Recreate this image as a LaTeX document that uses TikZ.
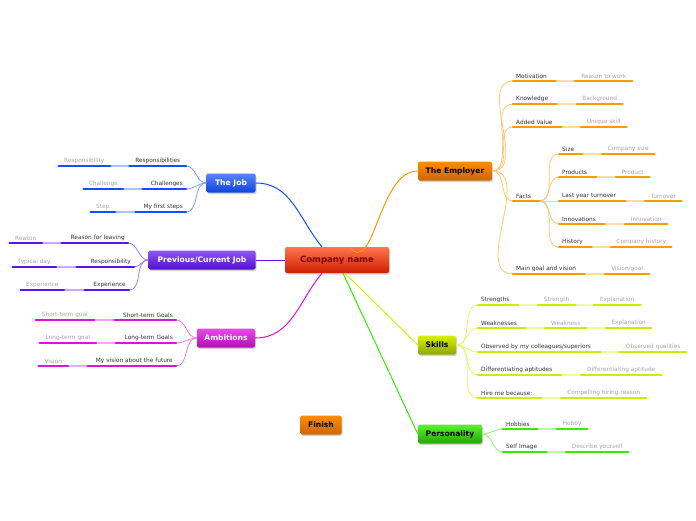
\documentclass[tikz,border=0pt]{standalone}
\usepackage{fontspec}
\setmainfont{DejaVu Sans}
\usetikzlibrary{shadows,calc}
\definecolor{cor}{HTML}{FF9900}
\definecolor{cyl}{HTML}{CCEE00}
\definecolor{cgr}{HTML}{33EE00}
\definecolor{cbl}{HTML}{1050FF}
\definecolor{cpu}{HTML}{6010F0}
\definecolor{cma}{HTML}{E010E0}
\tikzset{
  lfb/.style={font=\fontsize{5.8}{6.5}\selectfont, text=black!80, inner xsep=3pt, inner ysep=2.5pt, anchor=south west},
  lfg/.style={lfb, text=black!35, align=center},
  bar/.style={draw=#1, line width=2.4pt, line cap=round},
  main/.style={rounded corners=2pt, font=\bfseries\fontsize{7.6}{9}\selectfont, minimum height=19pt, inner xsep=6pt, drop shadow={opacity=0.35, shadow xshift=1pt, shadow yshift=-1.5pt}},
  conn/.style={draw=#1!55, line width=0.8pt},
  link/.style={draw=#1!35, line width=1.2pt},
  L/.style={anchor=south east}
}
\begin{document}
\begin{tikzpicture}[x=1pt,y=-1pt]
\useasboundingbox (0,0) rectangle (696,520);
\fill[white] (0,0) rectangle (696,520);
% main boxes
\node[main, top color=red!55!orange!70, bottom color=red!70!orange!80!black, text=red!50!black, minimum width=104pt, minimum height=26pt, font=\bfseries\fontsize{8.5}{10}\selectfont] (c) at (337,260) {Company name};
\node[main, top color=orange!90!yellow, bottom color=orange!80!black, text=black, minimum width=74pt] (emp) at (455,171) {The Employer};
\node[main, top color=cyl!80!yellow, bottom color=cyl!70!black, text=black, minimum width=38pt] (sk) at (437,345) {Skills};
\node[main, top color=cgr!80!white, bottom color=cgr!70!black, text=black, minimum width=64pt] (pe) at (450,434) {Personality};
\node[main, top color=cbl!70!white, bottom color=cbl!85!black, text=white, minimum width=49pt] (job) at (231,183) {The Job};
\node[main, top color=cpu!70!white, bottom color=cpu!85!black, text=white, minimum width=107pt] (prev) at (202,260) {Previous/Current Job};
\node[main, top color=cma!75!white, bottom color=cma!80!black, text=white, minimum width=58pt] (amb) at (226,338) {Ambitions};
\node[main, top color=orange!90!yellow, bottom color=orange!80!black, text=black, minimum width=41pt] (fin) at (321,425) {Finish};
% central connectors
\draw[cor, line width=1pt] ($(c.north)+(12,0)$) to[out=-50,in=180] (emp.west);
\draw[cyl!80!yellow, line width=1pt] ($(c.south)+(8,0)$) -- (sk.west);
\draw[cgr, line width=1pt] ($(c.south)+(6,0)$) -- (pe.west);
\draw[cbl, line width=1pt] ($(c.north)+(-15,0)$) to[out=130,in=0] (job.east);
\draw[cpu, line width=1pt] (c.west) -- (prev.east);
\draw[cma, line width=1pt] ($(c.south)+(-15,0)$) to[out=-130,in=0] (amb.east);
% ---- Employer
\node[lfb, text width=36pt, align=left] (mot) at (513,81) {Motivation};
\node[lfg, text width=51pt] (mot2) at (575,81) {Reason to work};
\node[lfb, text width=37pt, align=left] (kno) at (513,104) {Knowledge};
\node[lfg, text width=39pt] (kno2) at (577,104) {Background};
\node[lfb, text width=42pt, align=left] (add) at (513,127) {Added Value};
\node[lfg, text width=39pt] (add2) at (581,127) {Unique skill};
\node[lfb, text width=20pt, align=left] (fac) at (513,201) {Facts};
\node[lfb, text width=17pt, align=left] (siz) at (559,154) {Size};
\node[lfg, text width=46pt] (siz2) at (602,154) {Company size};
\node[lfb, text width=31pt, align=left] (pro) at (559,177) {Products};
\node[lfg, text width=27pt] (pro2) at (616,177) {Product};
\node[lfb, text width=60pt, align=left] (tur) at (559,201) {Last year turnover};
\node[lfg, text width=30pt] (tur2) at (645,201) {Turnover};
\node[lfb, text width=39pt, align=left] (inn) at (559,224) {Innovations};
\node[lfg, text width=36pt] (inn2) at (625,224) {Innovation};
\node[lfb, text width=26pt, align=left] (his) at (559,247) {History};
\node[lfg, text width=54pt] (his2) at (611,247) {Company history};
\node[lfb, text width=65pt, align=left] (mai) at (513,274) {Main goal and vision};
\node[lfg, text width=38pt] (mai2) at (605,274) {Vision/goal};
\foreach \n in {mot,kno,add,fac,mai} \draw[conn=cor] (emp.east) to[out=0,in=180] (\n.south west);
\foreach \n in {siz,pro,tur,inn,his} \draw[conn=cor] (fac.south east) to[out=0,in=180] (\n.south west);
\foreach \n in {mot,kno,add,siz,pro,tur,inn,his,mai} \draw[link=cor] (\n.south east) to[out=0,in=180] (\n2.south west);
\foreach \n in {mot,kno,add,fac,siz,pro,tur,inn,his,mai,mot2,kno2,add2,siz2,pro2,tur2,inn2,his2,mai2} \draw[bar=cor] (\n.south west) -- (\n.south east);
% ---- Skills
\node[lfb, text width=34pt, align=left] (str) at (478,305) {Strengths};
\node[lfg, text width=31pt] (str2) at (538,305) {Strength};
\node[lfg, text width=40pt] (str3) at (594,305) {Explanation};
\node[lfb, text width=41pt, align=left] (wea) at (478,328) {Weaknesses};
\node[lfg, text width=35pt] (wea2) at (545,328) {Weakness};
\node[lfg, text width=39pt] (wea3) at (606,328) {Explanation};
\node[lfb, text width=116pt, align=left] (obs) at (478,352) {Observed by my colleagues/superiors};
\node[lfg, text width=60pt] (obs2) at (620,352) {Observed qualities};
\node[lfb, text width=77pt, align=left] (dif) at (478,375) {Differentiating aptitudes};
\node[lfg, text width=74pt] (dif2) at (581,375) {Differentiating aptitude};
\node[lfb, text width=57pt, align=left] (hir) at (478,398) {Hire me because:};
\node[lfg, text width=79pt] (hir2) at (561,398) {Compelling hiring reason};
\foreach \n in {str,wea,obs,dif,hir} {\draw[conn=cyl] (sk.east) to[out=0,in=180] (\n.south west);
  \draw[link=cyl] (\n.south east) to[out=0,in=180] (\n2.south west);}
\draw[link=cyl] (str2.south east) to[out=0,in=180] (str3.south west);
\draw[link=cyl] (wea2.south east) to[out=0,in=180] (wea3.south west);
\foreach \n in {str,wea,obs,dif,hir,str2,wea2,obs2,dif2,hir2,str3,wea3} \draw[bar=cyl] (\n.south west) -- (\n.south east);
% ---- Personality
\node[lfb, text width=28pt, align=left] (hob) at (503,429) {Hobbies};
\node[lfg, text width=24pt] (hob2) at (557,429) {Hobby};
\node[lfb, text width=37pt, align=left] (sel) at (503,452) {Self Image};
\node[lfg, text width=56pt] (sel2) at (566,452) {Describe yourself};
\foreach \n in {hob,sel} {\draw[conn=cgr] (pe.east) to[out=0,in=180] (\n.south west);
  \draw[link=cgr] (\n.south east) to[out=0,in=180] (\n2.south west);}
\foreach \n in {hob,sel,hob2,sel2} \draw[bar=cgr] (\n.south west) -- (\n.south east);
% ---- The Job (left side)
\node[lfb, L, text width=50pt, align=center] (res) at (186,166) {Responsibilities};
\node[lfg, L, text width=45pt] (res2) at (110,166) {Responsibility};
\node[lfb, L, text width=37pt, align=right] (cha) at (186,189) {Challenges};
\node[lfg, L, text width=33pt] (cha2) at (123,189) {Challenge};
\node[lfb, L, text width=44pt, align=right] (fir) at (186,212) {My first steps};
\node[lfg, L, text width=18pt] (fir2) at (115,212) {Step};
\foreach \n in {res,cha,fir} {\draw[conn=cbl] (job.west) to[out=180,in=0] (\n.south east);
  \draw[link=cbl] (\n.south west) to[out=180,in=0] (\n2.south east);}
\foreach \n in {res,cha,fir,res2,cha2,fir2} \draw[bar=cbl] (\n.south west) -- (\n.south east);
% ---- Previous
\node[lfb, L, text width=60pt, align=right] (rea) at (128,243) {Reason for leaving};
\node[lfg, L, text width=26pt] (rea2) at (42,243) {Reason};
\node[lfb, L, text width=51pt, align=right] (rsp) at (134,267) {Responsibility};
\node[lfg, L, text width=37pt] (rsp2) at (56,267) {Typical day};
\node[lfb, L, text width=38pt, align=right] (exp) at (129,290) {Experience};
\node[lfg, L, text width=37pt] (exp2) at (64,290) {Experience};
\foreach \n in {rea,rsp,exp} {\draw[conn=cpu] (prev.west) to[out=180,in=0] (\n.south east);
  \draw[link=cpu] (\n.south west) to[out=180,in=0] (\n2.south east);}
\foreach \n in {rea,rsp,exp,rea2,rsp2,exp2} \draw[bar=cpu] (\n.south west) -- (\n.south east);
% ---- Ambitions
\node[lfb, L, text width=55pt, align=right] (sho) at (176,320) {Short-term Goals};
\node[lfg, L, text width=52pt] (sho2) at (94,320) {Short-term goal};
\node[lfb, L, text width=54pt, align=right] (lon) at (176,343) {Long-term Goals};
\node[lfg, L, text width=50pt] (lon2) at (96,343) {Long-term goal};
\node[lfb, L, text width=82pt, align=right] (vis) at (176,366) {My vision about the future};
\node[lfg, L, text width=23pt] (vis2) at (68,366) {Vision};
\foreach \n in {sho,lon,vis} {\draw[conn=cma] (amb.west) to[out=180,in=0] (\n.south east);
  \draw[link=cma] (\n.south west) to[out=180,in=0] (\n2.south east);}
\foreach \n in {sho,lon,vis,sho2,lon2,vis2} \draw[bar=cma] (\n.south west) -- (\n.south east);
\end{tikzpicture}
\end{document}
